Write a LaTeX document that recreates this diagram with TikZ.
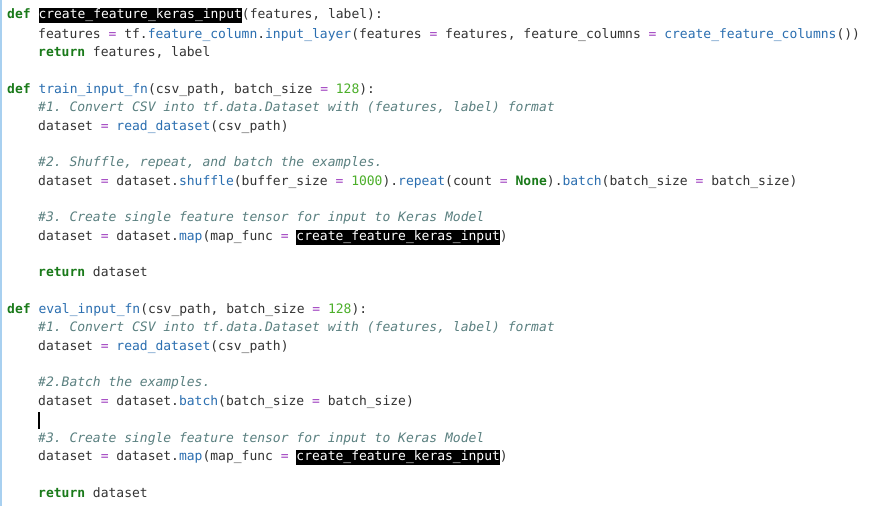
\documentclass[tikz,border=0pt]{standalone}
\usepackage{fontspec}
\setmonofont{DejaVu Sans Mono}
\definecolor{kw}{HTML}{1A7A1A}
\definecolor{fn}{HTML}{2A6EB0}
\definecolor{num}{HTML}{4CAF2A}
\definecolor{op}{HTML}{A040C0}
\definecolor{cm}{HTML}{5A8080}
\definecolor{tx}{HTML}{333333}
\definecolor{bar}{HTML}{A8D0F0}
\newcommand{\K}[1]{\textcolor{kw}{\bfseries #1}}
\newcommand{\F}[1]{\textcolor{fn}{#1}}
\newcommand{\N}[1]{\textcolor{num}{#1}}
\newcommand{\E}{\textcolor{op}{=}}
\newcommand{\C}[1]{\textcolor{cm}{\itshape #1}}
\newcommand{\HL}[1]{{\setlength\fboxsep{0pt}\colorbox{black}{\strut\textcolor{white}{#1}}}}
\begin{document}
\begin{tikzpicture}[x=1pt,y=-1pt,
  code/.style={anchor=base west,inner sep=0pt,text=tx,font=\ttfamily\fontsize{13}{15}\selectfont}]
\useasboundingbox (0,0) rectangle (873,506);
\fill[white] (0,0) rectangle (873,506);
\fill[bar] (0,0) rectangle (2,506);
\node[code] (L1) at (7,19) {\K{def} \HL{create\_feature\_keras\_input}(features, label):};
\node[code] (L2) at (38,38) {features \E{} tf.\F{feature\_column}.\F{input\_layer}(features \E{} features, feature\_columns \E{} \F{create\_feature\_columns}())};
\node[code] (L3) at (38,56.5) {\K{return} features, label};
\node[code] (L5) at (7,93) {\K{def} \F{train\_input\_fn}(csv\_path, batch\_size \E{} \N{128}):};
\node[code] (L6) at (38,111.5) {\C{\#1. Convert CSV into tf.data.Dataset with (features, label) format}};
\node[code] (L7) at (38,130) {dataset \E{} \F{read\_dataset}(csv\_path)};
\node[code] (L9) at (38,166.5) {\C{\#2. Shuffle, repeat, and batch the examples.}};
\node[code] (L10) at (38,185) {dataset \E{} dataset.\F{shuffle}(buffer\_size \E{} \N{1000}).\F{repeat}(count \E{} \K{None}).\F{batch}(batch\_size \E{} batch\_size)};
\node[code] (L12) at (38,221.5) {\C{\#3. Create single feature tensor for input to Keras Model}};
\node[code] (L13) at (38,240) {dataset \E{} dataset.\F{map}(map\_func \E{} \HL{create\_feature\_keras\_input})};
\node[code] (L15) at (38,276.5) {\K{return} dataset};
\node[code] (L17) at (7,313) {\K{def} \F{eval\_input\_fn}(csv\_path, batch\_size \E{} \N{128}):};
\node[code] (L18) at (38,331.5) {\C{\#1. Convert CSV into tf.data.Dataset with (features, label) format}};
\node[code] (L19) at (38,350) {dataset \E{} \F{read\_dataset}(csv\_path)};
\node[code] (L21) at (38,386.5) {\C{\#2.Batch the examples.}};
\node[code] (L22) at (38,405) {dataset \E{} dataset.\F{batch}(batch\_size \E{} batch\_size)};
\fill[black] (38,412) rectangle (39.6,429);
\node[code] (L24) at (38,442) {\C{\#3. Create single feature tensor for input to Keras Model}};
\node[code] (L25) at (38,460.5) {dataset \E{} dataset.\F{map}(map\_func \E{} \HL{create\_feature\_keras\_input})};
\node[code] (L27) at (38,497) {\K{return} dataset};
\end{tikzpicture}
\end{document}
